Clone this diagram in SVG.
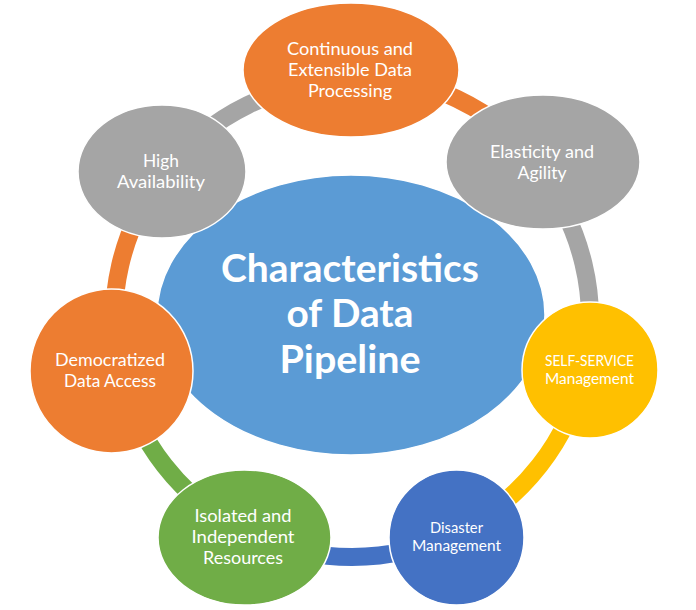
<svg xmlns="http://www.w3.org/2000/svg" width="696" height="610" viewBox="0 0 696 610">
<style>
.ring{fill:none;stroke-width:18;stroke-linecap:butt}
.node{stroke:#ffffff;stroke-width:1.5}
.t{font-family:Lato,"Open Sans","Liberation Sans",sans-serif;fill:#ffffff;text-anchor:middle;font-size:17.5px}
.s{font-size:14.5px}
.c{font-family:Lato,"Open Sans","Liberation Sans",sans-serif;fill:#ffffff;text-anchor:middle;font-size:39px;font-weight:bold}
</style>
<rect width="696" height="610" fill="#ffffff"/>
<g id="center">
<ellipse class="node" cx="351" cy="315" rx="194" ry="140" fill="#5b9bd5" stroke="none"/>
<text class="c" x="350" y="282" textLength="258" lengthAdjust="spacingAndGlyphs">Characteristics</text>
<text class="c" x="350" y="327" textLength="127" lengthAdjust="spacingAndGlyphs">of Data</text>
<text class="c" x="350" y="373" textLength="141" lengthAdjust="spacingAndGlyphs">Pipeline</text>
</g>
<g id="connectors">
<path class="ring" stroke="#a5a5a5" d="M164.5 172.5 A238 238 0 0 1 352 81"/>
<path class="ring" stroke="#ed7d31" d="M352 75 A244 244 0 0 1 541.6 165.5"/>
<path class="ring" stroke="#a5a5a5" d="M536.9 169.2 A238 238 0 0 1 584.8 368.5"/>
<path class="ring" stroke="#ffc000" d="M584.8 368.5 A238 238 0 0 1 456.3 532.9"/>
<path class="ring" stroke="#4472c4" d="M456.3 532.9 A238 238 0 0 1 247.7 532.9"/>
<path class="ring" stroke="#70ad47" d="M247.7 532.9 A238 238 0 0 1 119.2 368.5"/>
<path class="ring" stroke="#ed7d31" d="M119.2 368.5 A238 238 0 0 1 164.5 172.5"/>
</g>
<g id="n-continuous">
<ellipse class="node" cx="351" cy="70" rx="108" ry="67" fill="#ed7d31"/>
<text class="t" x="350" y="55" textLength="126" lengthAdjust="spacingAndGlyphs">Continuous and</text>
<text class="t" x="350" y="76" textLength="124" lengthAdjust="spacingAndGlyphs">Extensible Data</text>
<text class="t" x="350" y="97" textLength="84" lengthAdjust="spacingAndGlyphs">Processing</text>
</g>
<g id="n-elasticity">
<ellipse class="node" cx="543" cy="162" rx="97" ry="67" fill="#a5a5a5"/>
<text class="t" x="542" y="158" textLength="104" lengthAdjust="spacingAndGlyphs">Elasticity and</text>
<text class="t" x="542" y="179" textLength="49" lengthAdjust="spacingAndGlyphs">Agility</text>
</g>
<g id="n-selfservice">
<ellipse class="node" cx="590" cy="370" rx="68" ry="68" fill="#ffc000"/>
<text class="t s" x="589.5" y="366" textLength="89" lengthAdjust="spacingAndGlyphs">SELF-SERVICE</text>
<text class="t s" x="589.5" y="384" textLength="89" lengthAdjust="spacingAndGlyphs">Management</text>
</g>
<g id="n-disaster">
<ellipse class="node" cx="456.5" cy="537.5" rx="67.5" ry="67.5" fill="#4472c4"/>
<text class="t s" x="456.5" y="533" textLength="53" lengthAdjust="spacingAndGlyphs">Disaster</text>
<text class="t s" x="456.5" y="551" textLength="89" lengthAdjust="spacingAndGlyphs">Management</text>
</g>
<g id="n-isolated">
<ellipse class="node" cx="244.5" cy="537.5" rx="86.5" ry="67.5" fill="#70ad47"/>
<text class="t" x="243" y="522" textLength="97" lengthAdjust="spacingAndGlyphs">Isolated and</text>
<text class="t" x="243" y="543" textLength="103" lengthAdjust="spacingAndGlyphs">Independent</text>
<text class="t" x="243" y="564" textLength="80" lengthAdjust="spacingAndGlyphs">Resources</text>
</g>
<g id="n-democratized">
<ellipse class="node" cx="111.5" cy="371" rx="81.5" ry="82" fill="#ed7d31"/>
<text class="t" x="110" y="366" textLength="110" lengthAdjust="spacingAndGlyphs">Democratized</text>
<text class="t" x="110" y="387" textLength="92" lengthAdjust="spacingAndGlyphs">Data Access</text>
</g>
<g id="n-high">
<ellipse class="node" cx="162" cy="171.5" rx="84" ry="66.5" fill="#a5a5a5"/>
<text class="t" x="161" y="167" textLength="36" lengthAdjust="spacingAndGlyphs">High</text>
<text class="t" x="161" y="188" textLength="88" lengthAdjust="spacingAndGlyphs">Availability</text>
</g>
</svg>
